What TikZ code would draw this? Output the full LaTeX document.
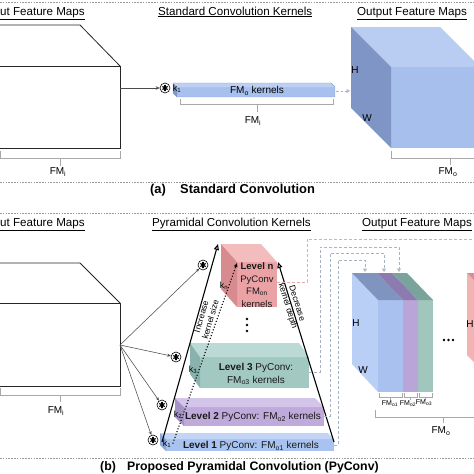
\documentclass[tikz,border=0pt]{standalone}
\usepackage{fontspec}
\setmainfont{Liberation Sans}
\usetikzlibrary{arrows.meta,calc}
\definecolor{sepc}{HTML}{9A9A9A}
\definecolor{brc}{HTML}{A8A8A8}
\definecolor{kfront}{HTML}{A7C0EE}
\definecolor{ktop}{HTML}{BDD0F4}
\definecolor{kside}{HTML}{7F96C8}
\definecolor{cfront}{HTML}{A6BFEC}
\definecolor{ctop}{HTML}{B9CDF3}
\definecolor{cside}{HTML}{7E95C6}
\definecolor{pinkfront}{HTML}{EBA2A5}
\definecolor{pinktop}{HTML}{F3BDBE}
\definecolor{pinkside}{HTML}{D88B8F}
\definecolor{tealfront}{HTML}{A2C8C2}
\definecolor{tealtop}{HTML}{BCDAD5}
\definecolor{tealside}{HTML}{88B2AB}
\definecolor{purpfront}{HTML}{BFAADB}
\definecolor{purptop}{HTML}{D3C5EA}
\definecolor{purpside}{HTML}{A592C6}
\definecolor{lonefront}{HTML}{A9C3F0}
\definecolor{lonetop}{HTML}{C2D5F6}
\definecolor{loneside}{HTML}{8CA7D8}
\definecolor{sblue}{HTML}{A8C1EE}
\definecolor{sbluetop}{HTML}{7F95C0}
\definecolor{sblueside}{HTML}{BACFF5}
\definecolor{spurp}{HTML}{B9A5D8}
\definecolor{spurptop}{HTML}{8C7BAE}
\definecolor{steal}{HTML}{A1C6BD}
\definecolor{stealtop}{HTML}{7AA39C}
\definecolor{dashgray}{HTML}{A9B3C4}
\definecolor{dashpink}{HTML}{E6A9B0}
\definecolor{arrblue}{HTML}{9DB5DD}
\definecolor{rpink}{HTML}{F2B3B3}
\definecolor{rpinktop}{HTML}{D98F90}

\newcommand\pybox[9]{%
  \fill[#7] (#1,#2) rectangle (#3,#4);
  \fill[#8] (#1,#2) -- ({#1-#5},{#2-#6}) -- ({#3-#5},{#2-#6}) -- (#3,#2) -- cycle;
  \fill[#9] (#1,#2) -- ({#1-#5},{#2-#6}) -- ({#1-#5},{#4-#6}) -- (#1,#4) -- cycle;
}
\newcommand\fmbrace[6]{%
  \draw[brc,line width=0.6pt] (#1,#3) -- (#1,#4) -- (#2,#4) -- (#2,#3);
  \draw[brc,line width=0.6pt] (#5,#4) -- ++(0,#6);
}

\begin{document}
\begin{tikzpicture}[x=1pt,y=-1pt,
  sepline/.style={draw=sepc,line width=0.6pt,dash pattern=on 1.6pt off 1.2pt},
  hdr/.style={font=\fontsize{11.6}{13}\selectfont,inner sep=0pt,anchor=base west},
  capt/.style={font=\bfseries\fontsize{12.3}{14}\selectfont,inner sep=0pt,anchor=base west},
  capta/.style={font=\bfseries\fontsize{12.9}{14}\selectfont,inner sep=0pt,anchor=base west},
  lbl/.style={font=\fontsize{10}{12}\selectfont,inner sep=0pt},
  klbl/.style={font=\fontsize{9}{10}\selectfont,inner sep=0pt},
  tiny/.style={font=\fontsize{7}{8}\selectfont,inner sep=0pt},
  lvl/.style={font=\fontsize{10}{12.5}\selectfont,inner sep=0pt,align=center,text=black!90},
  outline/.style={draw=black!85,line width=0.8pt},
  wire/.style={draw=black!70,line width=0.55pt},
  conv/.style={circle,draw=black,fill=white,line width=0.6pt,minimum size=10pt,inner sep=0pt,
    path picture={\foreach \a in {90,150,210}{\draw[line width=1.2pt,line cap=round]
      ($(path picture bounding box.center)+(\a:2.7pt)$) -- ($(path picture bounding box.center)+(\a+180:2.7pt)$);}}},
  gdash/.style={draw=dashgray,line width=0.9pt,dash pattern=on 3pt off 2pt},
  pdash/.style={draw=dashpink,line width=0.9pt,dash pattern=on 3pt off 2pt},
  darr/.style={-{Triangle[open,length=3.5pt,width=4pt]}},
  pyr/.style={draw=black,line width=1.1pt,-{Triangle[open,length=6pt,width=5pt]}},
  dots/.style={draw=black,line width=1.5pt,line cap=round,dash pattern=on 0pt off 3pt,-{Triangle[length=4pt,width=3.5pt]}}
]
\useasboundingbox (0,0) rectangle (474,474);
\clip (0,0) rectangle (474,474);
\fill[white] (0,0) rectangle (474,474);

% ---------- separators ----------
\draw[sepline] (0,2) -- (474,2);
\draw[sepline] (0,182) -- (474,182);
\draw[sepline] (0,213) -- (474,213);
\draw[sepline] (0,458) -- (474,458);

% ---------- (a) headers ----------
\node[hdr] (ha1) at (0,15) {\underline{ut Feature Maps}};
\node[hdr] (ha2) at (158,15) {\underline{Standard Convolution Kernels}};
\node[hdr] (ha3) at (357,15) {\underline{Output Feature Maps}};

% input box (a)
\draw[outline] (0,25) -- (80,25) -- (120,66);
\draw[outline] (0,66) -- (120,66) -- (120,148) -- (0,148);
\fmbrace{0}{120}{151}{158}{60}{8}
\node[lbl] (fmia) at (58,172) {FM\textsubscript{i}};

% kernel bar (a)
\pybox{177}{87}{335}{97}{4}{4}{kfront}{ktop}{kside}
\draw[draw=kside!90,line width=0.4pt] (173,83) -- (331,83) -- (335,87) -- (335,97) -- (177,97) -- (173,93) -- cycle;
\node[lbl] (kbar) at (257,91) {FM\textsubscript{o} kernels};
\node[klbl] (ka1) at (177,89) {k\textsubscript{1}};
\fmbrace{180}{333}{99}{104}{257}{8}
\node[lbl] (fmib) at (253,121) {FM\textsubscript{i}};

\coordinate (inA) at (120,88);
\node[conv] (c0) at (165,88) {};
\draw[wire,-{Stealth[length=4pt,width=3.5pt]}] (inA) -- (c0);

% output cube (a)
\pybox{391}{67}{480}{148}{40}{40}{cfront}{ctop}{cside}
\node[lbl] (Ha) at (355,70) {H};
\node[lbl] (Wa) at (367,118) {W};
\coordinate (barEnd) at (336,91);
\coordinate (cubeIn) at (350,91);
\draw[draw=arrblue,line width=0.8pt,dash pattern=on 2.5pt off 2pt,darr] (barEnd) -- (cubeIn);
\fmbrace{391}{480}{151}{158}{450}{7}
\node[lbl] (fmoa) at (448,172) {FM\textsubscript{o}};

% caption (a)
\node[capta] (capa) at (150,193) {(a)};
\node[capta] (capat) at (180,193) {Standard Convolution};

% ---------- (b) headers ----------
\node[hdr] (hb1) at (0,226) {\underline{ut Feature Maps}};
\node[hdr] (hb2) at (152,226) {\underline{Pyramidal Convolution Kernels}};
\node[hdr] (hb3) at (362,226) {\underline{Output Feature Maps}};

% input box (b)
\draw[outline] (0,263) -- (80,263) -- (120,303);
\draw[outline] (0,303) -- (120,303) -- (120,386) -- (0,386);
\fmbrace{0}{120}{388}{395}{60}{7}
\node[lbl] (fmic) at (56,411) {FM\textsubscript{i}};

% level boxes
\pybox{237}{262}{277}{307}{16}{18}{pinkfront}{pinktop}{pinkside}
\pybox{200}{357}{309}{388}{10}{14}{tealfront}{tealtop}{tealside}
\pybox{184}{407}{324}{426}{9}{9}{purpfront}{purptop}{purpside}
\pybox{166}{439}{334}{451}{6}{6}{lonefront}{lonetop}{loneside}

\node[lvl,font=\fontsize{9.5}{12.5}\selectfont] (ln) at (257,285) {\textbf{Level n}\\PyConv\\FM\textsubscript{on}\\kernels};
\node[lvl] (l3) at (256,374) {\textbf{Level 3} PyConv:\\FM\textsubscript{o3} kernels};
\node[lvl] (l2) at (253,417) {\textbf{Level 2} PyConv: FM\textsubscript{o2} kernels};
\node[lvl] (l1) at (251,446) {\textbf{Level 1} PyConv: FM\textsubscript{o1} kernels};

% vertical dots
\fill (247,319) circle (1.4);
\fill (247,325) circle (1.4);
\fill (247,331) circle (1.4);

% pyramid lines
\coordinate (pl1) at (162,442);
\coordinate (pl2) at (218,244);
\coordinate (pr1) at (334,442);
\coordinate (pr2) at (278,262);
\coordinate (pd1) at (173,443);
\coordinate (pd2) at (237,263);
\draw[dots] (pd1) -- (pd2);
\draw[pyr] (pl1) -- (pl2);
\draw[pyr] (pr1) -- (pr2);
\node[klbl,rotate=74,align=center,font=\fontsize{8.5}{9.5}\selectfont] (inc) at (206,318) {Increase\\kernel size};
\node[klbl,rotate=-72.6,align=center,font=\fontsize{8.5}{9.5}\selectfont] (dec) at (292,305) {Decrease\\kernel depth};

% k labels
\node[klbl] (kn) at (224,286) {k\textsubscript{n}};
\node[klbl] (k3) at (193,370) {k\textsubscript{3}};
\node[klbl] (k2) at (178,415) {k\textsubscript{2}};
\node[klbl] (k1) at (167,444) {k\textsubscript{1}};

% convolution circles and wires (b)
\coordinate (inB) at (120,345);
\node[conv] (c1) at (203,265) {};
\node[conv] (c2) at (176,357) {};
\node[conv] (c3) at (162,405) {};
\node[conv] (c4) at (153,440) {};
\foreach \c in {c1,c2,c3,c4}{\draw[wire,-{Stealth[length=3.5pt,width=3pt]}] (inB) -- (\c);}

% output stack (b)
\fill[sblueside] (352,273) -- (378,300) -- (378,392) -- (352,364) -- cycle;
\fill[sblue] (378,300) rectangle (403,392);
\fill[spurp] (403,300) rectangle (418,392);
\fill[steal] (418,300) rectangle (433,392);
\fill[sbluetop] (352,273) -- (377,273) -- (403,300) -- (378,300) -- cycle;
\fill[spurptop] (377,273) -- (392,273) -- (418,300) -- (403,300) -- cycle;
\fill[stealtop] (392,273) -- (407,273) -- (433,300) -- (418,300) -- cycle;
\node[lbl] (Hb) at (356,323) {H};
\node[lbl] (Wb) at (363,370) {W};

% small braces
\fmbrace{379}{402}{393}{397}{390}{3}
\fmbrace{404}{417}{393}{397}{410}{3}
\fmbrace{419}{432}{393}{397}{425}{3}
\node[tiny] (f1) at (390,404) {FM\textsubscript{o1}};
\node[tiny] (f2) at (408,404) {FM\textsubscript{o2}};
\node[tiny] (f3) at (424,403) {FM\textsubscript{o3}};
\fmbrace{375}{480}{410}{417}{443}{6}
\node[lbl] (fmob) at (441,431) {FM\textsubscript{o}};

% dots and right pink box
\fill (444,340) circle (1.3);
\fill (448.5,340) circle (1.3);
\fill (453,340) circle (1.3);
\fill[rpink] (467,273) -- (493,300) -- (493,382) -- (467,355) -- cycle;
\fill[rpinktop] (467,273) -- (500,273) -- (526,300) -- (493,300) -- cycle;
\node[lbl] (Hc) at (470,324) {H};

% dashed connectors
\coordinate (nOut) at (277,282);
\coordinate (pinkEnd) at (480,239);
\draw[pdash] (nOut) -- (307,282) -- (307,239) -- (pinkEnd);
\coordinate (o3) at (309,372);
\coordinate (o2) at (324,416);
\coordinate (o1) at (334,445);
\coordinate (t3) at (399,272);
\coordinate (t2) at (384,272);
\coordinate (t1) at (365,272);
\draw[gdash,darr] (o3) -- (320,372) -- (320,247) -- (399,247) -- (t3);
\draw[gdash,darr] (o2) -- (330,416) -- (330,253) -- (384,253) -- (t2);
\draw[gdash,darr] (o1) -- (338,445) -- (338,260) -- (365,260) -- (t1);

% caption (b)
\node[capt] (capb) at (100,470) {(b)};
\node[capt] (capbt) at (127,470) {Proposed Pyramidal Convolution (PyConv)};
\end{tikzpicture}
\end{document}
